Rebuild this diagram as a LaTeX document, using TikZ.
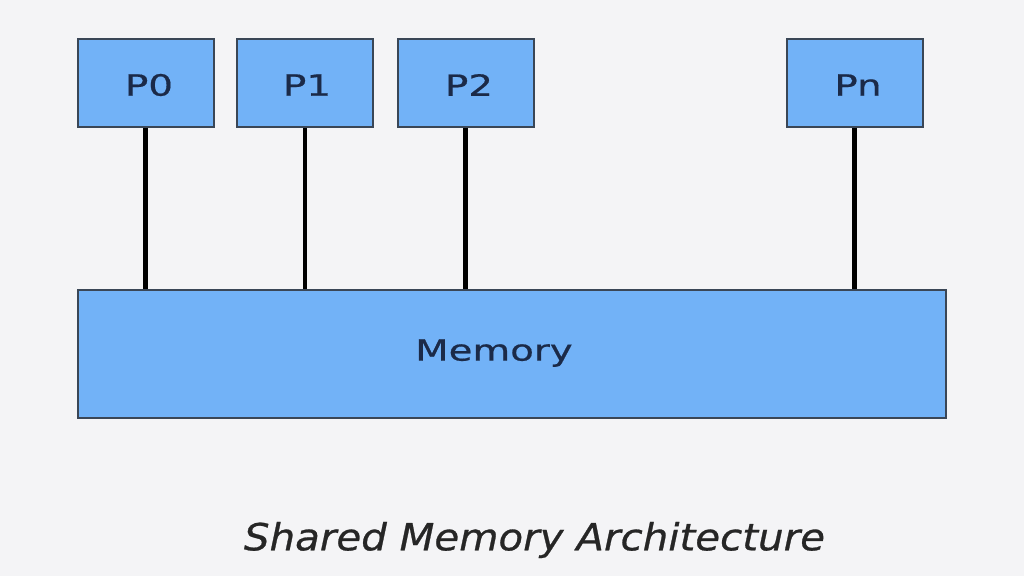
\documentclass[tikz,border=0pt]{standalone}
\usepackage{fontspec}
\setmainfont{DejaVu Sans}
\newfontfamily\boxfont[FakeStretch=1.32, FakeBold=0.6]{DejaVu Sans}
\newfontfamily\capfont[FakeStretch=1.08, FakeBold=0.7]{DejaVu Sans}
\usepackage{xcolor}
\usepackage{tikz}
\usetikzlibrary{calc}
\usetikzlibrary{positioning}
\definecolor{boxblue}{HTML}{72B2F7}
\definecolor{boxedge}{HTML}{3A4656}
\definecolor{labelink}{HTML}{1B2A48}
\definecolor{paper}{HTML}{F4F4F6}
\tikzstyle{proc} = [rectangle, draw=boxedge, fill=boxblue, line width=1.5pt, minimum width=102pt, minimum height=66pt, inner sep=0pt, text=labelink, font=\boxfont\fontsize{22}{26}\selectfont]
\tikzstyle{tag} = [proc, draw=none, fill=none, minimum width=0pt, minimum height=0pt]
\tikzstyle{bus} = [-, line width=3.6pt, draw=black]

\begin{document}
\begin{tikzpicture}[x=0.75pt, y=-0.75pt]
\fill [paper] (0,0) rectangle (1024,576);
\useasboundingbox (0,0) rectangle (1024,576);
\node [proc] (P0) at (145.5, 82.5) {};
\node [proc] (P1) at (305, 82.5) {};
\node [proc] (P2) at (465.5, 82.5) {};
\node [proc] (Pn) at (854.5, 82.5) {};
\node [proc, minimum width=651pt, minimum height=96pt] (M) at (511.5, 353.5) {};
% labels sit a little off the box centres
\node [tag] (P0t) at (149, 85) {P0};
\node [tag] (P1t) at (307, 85) {P1};
\node [tag] (P2t) at (469, 85) {P2};
\node [tag] (Pnt) at (858, 85) {Pn};
\node [tag] (Mt) at (494, 353) {Memory};
\draw [bus] (P0.south) to (P0.south |- M.north);
\draw [bus] (P1.south) to (P1.south |- M.north);
\draw [bus] (P2.south) to (P2.south |- M.north);
\draw [bus] (Pn.south) to (Pn.south |- M.north);
\node [draw=none, align=center, text=black!85, font=\capfont\fontsize{28}{32}\selectfont\itshape] (cap) at (534.5, 540) {Shared Memory Architecture};
\end{tikzpicture}
\end{document}
